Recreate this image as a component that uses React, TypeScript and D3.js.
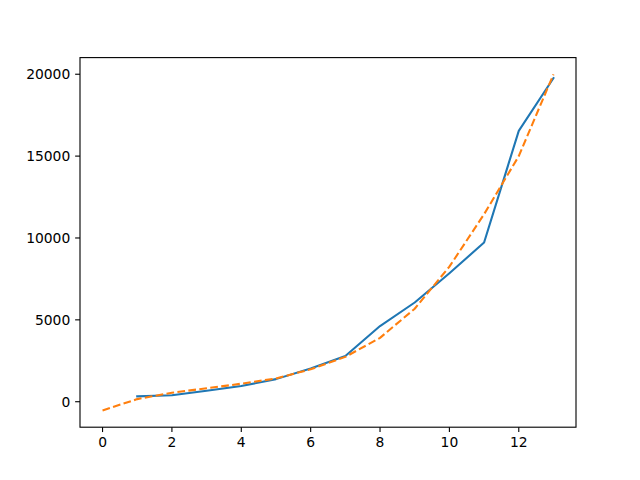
import React from "react";
import * as d3 from "d3";

const xBlue = [1, 2, 3, 4, 5, 6, 7, 8, 9, 10, 11, 12, 13];
const yBlue = [330, 400, 670, 960, 1380, 2030, 2790, 4620, 6060, 7850, 9720, 16540, 19760];
const xOrange = [0, 1, 2, 3, 4, 5, 6, 7, 8, 9, 10, 11, 12, 13];
const yOrange = [-530, 160, 550, 820, 1100, 1420, 1980, 2740, 3900, 5680, 8250, 11450, 15000, 19990];
const xTicks = [0, 2, 4, 6, 8, 10, 12];
const yTicks = [0, 5000, 10000, 15000, 20000];

export default function App() {
  const W = 640, H = 480;
  const left = 80, right = 576, top = 57.6, bottom = 427.2;
  const pt = 100 / 72;
  const xmin = Math.min(...xOrange, ...xBlue), xmax = Math.max(...xOrange, ...xBlue);
  const ymin = Math.min(...yOrange, ...yBlue), ymax = Math.max(...yOrange, ...yBlue);
  const xm = (xmax - xmin) * 0.05, ym = (ymax - ymin) * 0.05;
  const x = d3.scaleLinear().domain([xmin - xm, xmax + xm]).range([left, right]);
  const y = d3.scaleLinear().domain([ymin - ym, ymax + ym]).range([bottom, top]);
  const line = d3.line<[number, number]>().x(d => x(d[0])).y(d => y(d[1]));
  const blue = line(xBlue.map((v, i) => [v, yBlue[i]]) as [number, number][]) || "";
  const orange = line(xOrange.map((v, i) => [v, yOrange[i]]) as [number, number][]) || "";
  const tickLen = 3.5 * pt, pad = 3.5 * pt;
  const fs = 10 * pt;
  const font = "DejaVu Sans, sans-serif";
  return (
    <svg width={W} height={H} style={{ position: "absolute", left: 0, top: 0, display: "block", background: "#fff" }}>
      <rect x={0} y={0} width={W} height={H} fill="#fff" />
      <defs>
        <clipPath id="ax">
          <rect x={left} y={top} width={right - left} height={bottom - top} />
        </clipPath>
      </defs>
      <g clipPath="url(#ax)">
        <path d={blue} fill="none" stroke="#1f77b4" strokeWidth={1.5 * pt} strokeLinecap="square" strokeLinejoin="round" />
        <path d={orange} fill="none" stroke="#ff7f0e" strokeWidth={1.5 * pt} strokeDasharray={`${5.55 * pt} ${2.4 * pt}`} strokeLinecap="butt" strokeLinejoin="round" />
      </g>
      <rect x={left} y={top} width={right - left} height={bottom - top} fill="none" stroke="#000" strokeWidth={0.8 * pt} />
      {xTicks.map(t => (
        <g key={"x" + t}>
          <line x1={x(t)} x2={x(t)} y1={bottom} y2={bottom + tickLen} stroke="#000" strokeWidth={0.8 * pt} />
          <text x={x(t)} y={bottom + tickLen + pad + fs * 0.76} textAnchor="middle" fontFamily={font} fontSize={fs} fill="#000">{t}</text>
        </g>
      ))}
      {yTicks.map(t => (
        <g key={"y" + t}>
          <line x1={left - tickLen} x2={left} y1={y(t)} y2={y(t)} stroke="#000" strokeWidth={0.8 * pt} />
          <text x={left - tickLen - pad} y={y(t) + fs * 0.36} textAnchor="end" fontFamily={font} fontSize={fs} fill="#000">{t}</text>
        </g>
      ))}
    </svg>
  );
}
